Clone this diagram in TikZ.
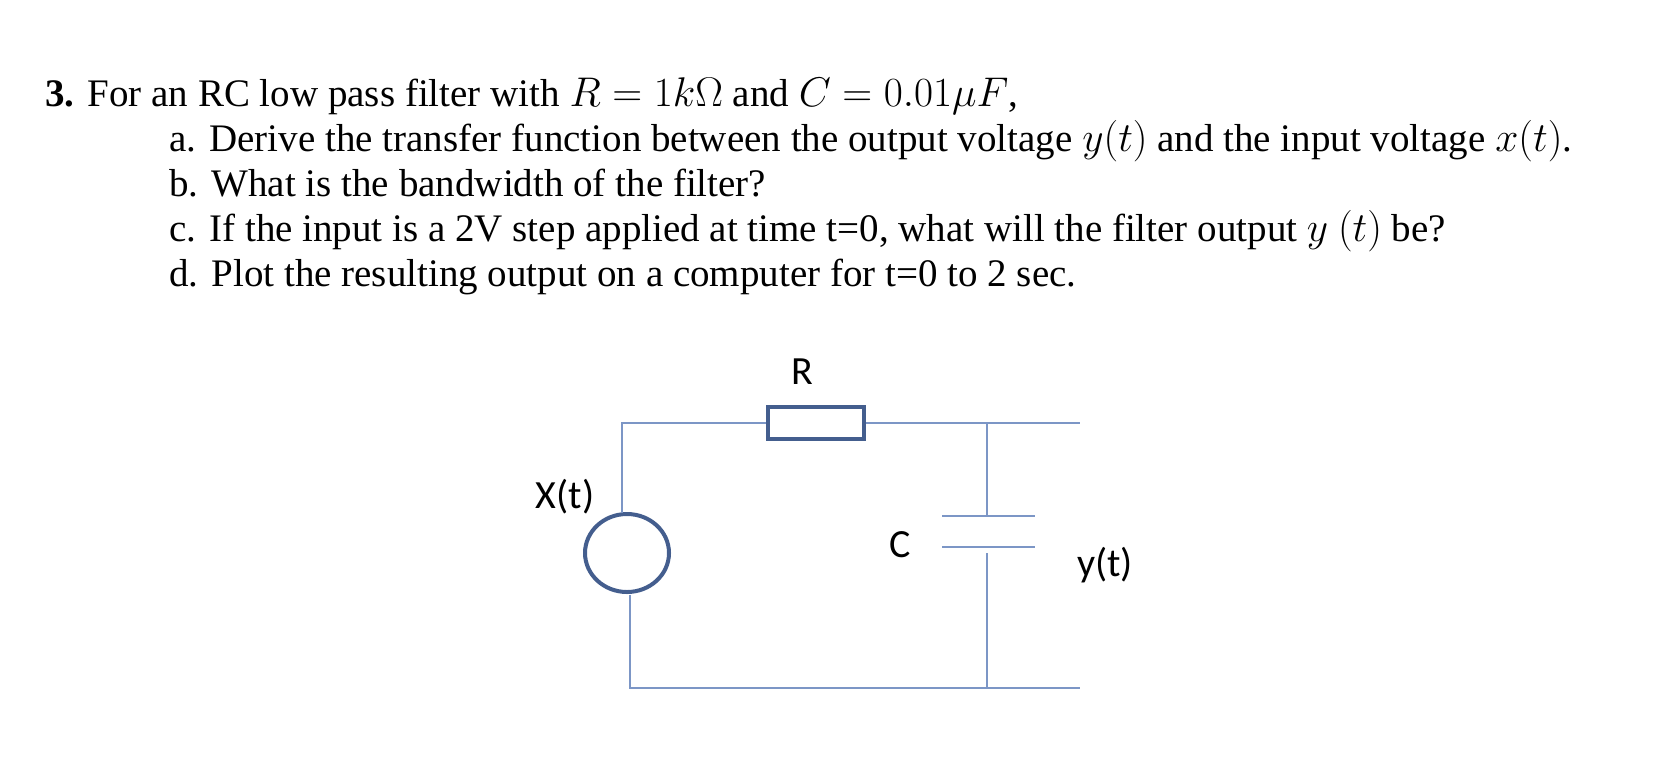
\documentclass[tikz,border=0pt]{standalone}
\usepackage{fontspec}
\setmainfont{Liberation Serif}
\newfontfamily\calib{Carlito}
\usetikzlibrary{positioning,shapes.geometric}
\definecolor{wireblue}{RGB}{124,150,198}
\definecolor{partblue}{RGB}{68,94,142}

\begin{document}
\begin{tikzpicture}[x=0.5pt,y=-0.5pt,
  wire/.style={wireblue, line width=1.1pt},
  part/.style={partblue, line width=2pt},
  txt/.style={anchor=base west, inner sep=0pt, font=\fontsize{19.5}{22}\selectfont},
  lbl/.style={inner sep=0pt, font=\calib\fontsize{20}{24}\selectfont}]
\useasboundingbox (0,0) rectangle (1673,756);
% problem text
\node[txt] (q) at (45,106) {\textbf{3.} For an RC low pass filter with $R=1k\Omega$ and $C=0.01\mu F$,};
\node[txt] (qa) at (169,151) {a. Derive the transfer function between the output voltage $y(t)$ and the input voltage $x(t)$.};
\node[txt] (qb) at (169,196) {b. What is the bandwidth of the filter?};
\node[txt] (qc) at (169,241) {c. If the input is a 2V step applied at time t=0, what will the filter output $y\ (t)$ be?};
\node[txt] (qd) at (169,286) {d. Plot the resulting output on a computer for t=0 to 2 sec.};
% circuit
\node[part, draw, minimum width=48pt, minimum height=16pt, inner sep=0pt] (res) at (816,423) {};
\node[part, draw, ellipse, minimum width=42pt, minimum height=39pt, inner sep=0pt] (src) at (627,553) {};
\coordinate (tl) at (622,423);
\coordinate (tj) at (987,423);
\coordinate (tr) at (1080,423);
\coordinate (bl) at (630,688);
\coordinate (bj) at (987,688);
\coordinate (br) at (1080,688);
\coordinate (cp1) at (987,516);
\coordinate (cp2) at (987,553);
\draw[wire] (622,513) -- (tl) -- (res.west);
\draw[wire] (res.east) -- (tr);
\draw[wire] (630,595) -- (bl) -- (br);
\draw[wire] (tj) -- (cp1);
\draw[wire] (cp2) -- (bj);
\draw[wire] (942,516) -- (1035,516);
\draw[wire] (942,547) -- (1035,547);
\node[lbl] (rl) at (802,372) {R};
\node[lbl] (xl) at (565,497) {X(t)};
\node[lbl] (cl) at (900,545) {C};
\node[lbl] (yl) at (1105,565) {y(t)};
\end{tikzpicture}
\end{document}
